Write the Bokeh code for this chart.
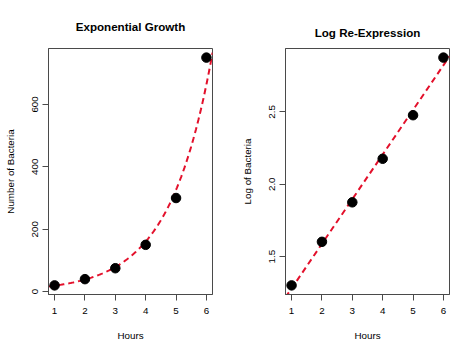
import numpy as np
from bokeh.plotting import figure
from bokeh.layouts import row
from bokeh.models import Range1d, FixedTicker, PrintfTickFormatter
from bokeh.embed import file_html
from bokeh.resources import INLINE

# ---- data ----
hours = [1, 2, 3, 4, 5, 6]
bacteria = [20, 40, 75, 150, 300, 750]
log_bacteria = list(np.log10(bacteria))

x_ticks = [1, 2, 3, 4, 5, 6]
left_y_ticks = [0, 200, 400, 600]
right_y_ticks = [1.5, 2.0, 2.5]

# fitted line of log10(count) on hours
slope, intercept = np.polyfit(hours, log_bacteria, 1)

FONT = "Liberation Sans"
AXIS_COL = "#4a4a4a"
TEXT_COL = "#000000"
RED = "#e3102b"


def pad(vals, f=0.04):
    lo, hi = min(vals), max(vals)
    d = (hi - lo) * f
    return lo - d, hi + d


def make_fig(title, ylabel, yvals, yticks, title_offset, title_standoff, fmt=None):
    x0, x1 = pad(hours)
    y0, y1 = pad(yvals)
    p = figure(width=237, height=355, output_backend="svg", toolbar_location=None,
               x_range=Range1d(x0, x1), y_range=Range1d(y0, y1),
               min_border_left=48, min_border_right=25,
               min_border_top=48, min_border_bottom=61,
               background_fill_color="white", border_fill_color="white")
    p.grid.visible = False
    p.outline_line_color = AXIS_COL
    p.outline_line_width = 1
    p.title.text = title
    p.title.align = "center"
    p.title.text_font = FONT
    p.title.text_font_size = "11.6px"
    p.title.text_font_style = "bold"
    p.title.text_color = TEXT_COL
    p.title.offset = title_offset
    p.title.standoff = title_standoff

    p.xaxis.ticker = FixedTicker(ticks=x_ticks)
    p.yaxis.ticker = FixedTicker(ticks=yticks)
    if fmt:
        p.yaxis.formatter = PrintfTickFormatter(format=fmt)
    for ax in (p.xaxis, p.yaxis):
        ax.axis_line_color = AXIS_COL
        ax.major_tick_line_color = AXIS_COL
        ax.minor_tick_line_color = None
        ax.major_tick_in = 0
        ax.major_tick_out = 6
        ax.major_label_text_font = FONT
        ax.major_label_text_font_size = "9.8px"
        ax.major_label_text_color = TEXT_COL
        ax.axis_label_text_font = FONT
        ax.axis_label_text_font_size = "9.8px"
        ax.axis_label_text_font_style = "normal"
        ax.axis_label_text_color = TEXT_COL
    p.xaxis.axis_label = "Hours"
    p.xaxis.major_label_standoff = 7
    p.xaxis.axis_label_standoff = 13
    p.yaxis.axis_label = ylabel
    p.yaxis.major_label_orientation = "vertical"
    p.yaxis.major_label_standoff = 4
    p.yaxis.axis_label_standoff = 14
    return p, (x0, x1)


p1, (xa, xb) = make_fig("Exponential Growth", "Number of Bacteria", bacteria,
                        left_y_ticks, 0, 32)
xs = np.linspace(xa, xb, 200)
p1.line(xs, 10 ** (intercept + slope * xs), line_color=RED, line_width=2,
        line_dash="6 4")
p1.scatter(hours, bacteria, size=9.5, fill_color="black", line_color="black")

p2, (xa2, xb2) = make_fig("Log Re-Expression", "Log of Bacteria", log_bacteria,
                          right_y_ticks, 9, 20, fmt="%.1f")
xs2 = np.array([xa2, xb2])
p2.line(xs2, intercept + slope * xs2, line_color=RED, line_width=2,
        line_dash="6 4")
p2.scatter(hours, log_bacteria, size=9.5, fill_color="black", line_color="black")

layout = row(p1, p2)
open("out.html", "w").write(file_html(layout, INLINE))
